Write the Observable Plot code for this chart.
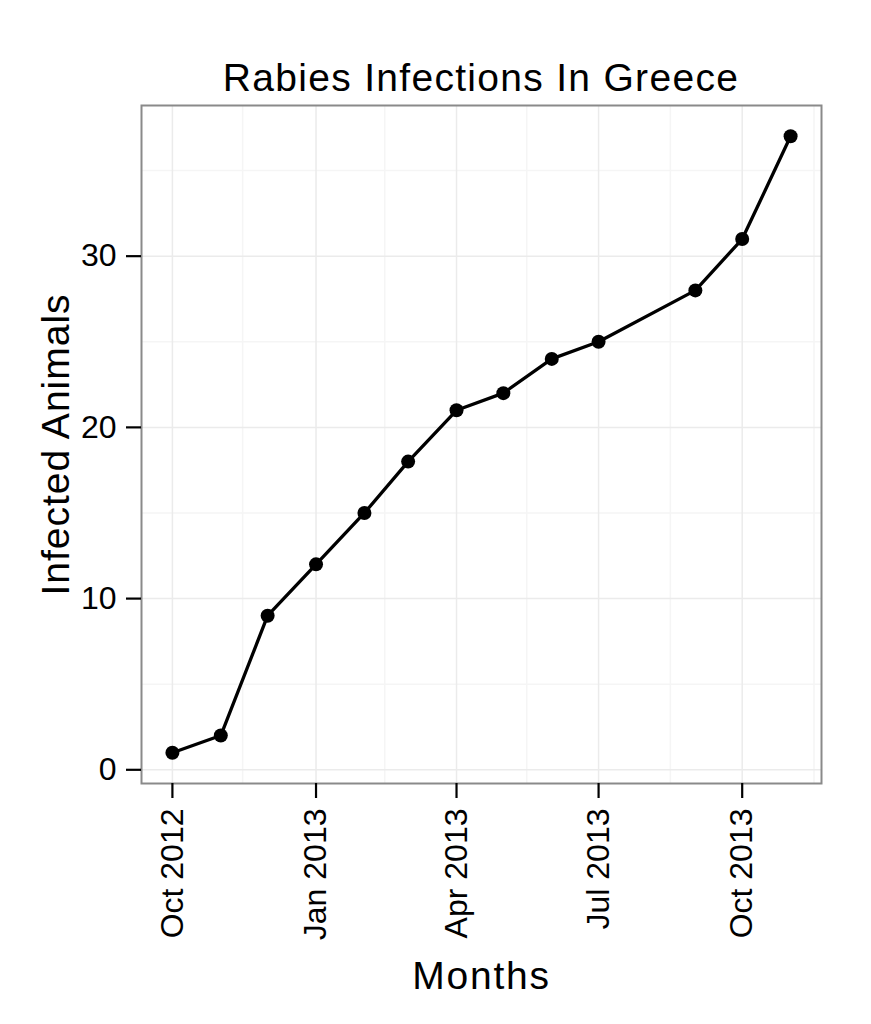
<!DOCTYPE html>
<html>
<head>
<meta charset="utf-8">
<script src="https://cdn.jsdelivr.net/npm/d3@7"></script>
<script src="https://cdn.jsdelivr.net/npm/@observablehq/plot@0.6"></script>
<style>
  html, body { margin: 0; padding: 0; background: #fff; }
  #wrap { position: relative; width: 871px; height: 1024px; font-family: "Liberation Sans", Arial, sans-serif; }
  #title { position: absolute; left: 141px; width: 680px; top: 55px; text-align: center; font-size: 39px; line-height: 46px; letter-spacing: 1.3px; color: #000; }
  #chart { position: absolute; left: 0; top: 100px; }
</style>
</head>
<body>
<div id="wrap">
  <div id="title">Rabies Infections In Greece</div>
  <div id="chart"></div>
</div>
<script>
// ---- data ----
const months = ["2012-10-01","2012-11-01","2012-12-01","2013-01-01","2013-02-01","2013-03-01","2013-04-01","2013-05-01","2013-06-01","2013-07-01","2013-09-01","2013-10-01","2013-11-01"];
const infected = [1, 2, 9, 12, 15, 18, 21, 22, 24, 25, 28, 31, 37];
const xTickDates = ["2012-10-01","2013-01-01","2013-04-01","2013-07-01","2013-10-01"];
const xMinorDates = ["2012-11-15","2013-02-14","2013-05-16","2013-08-16","2013-11-16"];
const yTicks = [0, 10, 20, 30];
const yMinor = [5, 15, 25, 35];
const xLabel = "Months";
const yLabel = "Infected Animals";

const parse = d3.utcParse("%Y-%m-%d");
const data = months.map((m, i) => ({date: parse(m), value: infected[i]}));
const xMajor = xTickDates.map(parse);
const xMinor = xMinorDates.map(parse);

// ggplot-style 5% expansion
const [x0, x1] = d3.extent(data, d => d.date);
const xpad = (x1 - x0) * 0.05;
const [y0, y1] = d3.extent(data, d => d.value);
const ypad = (y1 - y0) * 0.05;

const font = "Liberation Sans, Arial, sans-serif";

const plot = Plot.plot({
  width: 871,
  height: 924,
  marginLeft: 141,
  marginRight: 50,
  marginTop: 5,
  marginBottom: 241,
  style: {fontFamily: font, background: "#fff", color: "#000", overflow: "visible"},
  x: {type: "utc", domain: [new Date(+x0 - xpad), new Date(+x1 + xpad)]},
  y: {domain: [y0 - ypad, y1 + ypad]},
  marks: [
    Plot.ruleY(yMinor, {stroke: "#f5f5f5", strokeWidth: 1.5}),
    Plot.ruleX(xMinor, {stroke: "#f5f5f5", strokeWidth: 1.5}),
    Plot.ruleY(yTicks, {stroke: "#ebebeb", strokeWidth: 1.5}),
    Plot.ruleX(xMajor, {stroke: "#ebebeb", strokeWidth: 1.5}),
    Plot.frame({stroke: "#8a8a8a", strokeWidth: 2}),
    Plot.line(data, {x: "date", y: "value", stroke: "#000", strokeWidth: 3.3}),
    Plot.dot(data, {x: "date", y: "value", r: 7, fill: "#000", stroke: "none"}),
    Plot.axisY({ticks: yTicks, tickSize: 15, tickPadding: 10, fontSize: 32, label: null, stroke: "#000", strokeWidth: 2.2, fill: "#000"}),
    Plot.axisX({ticks: xMajor, tickFormat: d3.utcFormat("%b %Y"), tickRotate: -90, tickSize: 15, tickPadding: 10, fontSize: 32, label: null, stroke: "#000", strokeWidth: 2.2, fill: "#000"}),
    Plot.text([xLabel], {frameAnchor: "bottom", dy: 193, text: d => d, fontSize: 39, fill: "#000", lineAnchor: "middle", textAnchor: "middle"}),
    Plot.text([yLabel], {frameAnchor: "left", dx: -85, rotate: -90, text: d => d, fontSize: 39, fill: "#000", lineAnchor: "middle", textAnchor: "middle"})
  ]
});
d3.select(plot).selectAll("text").filter(function() { return this.textContent === xLabel; }).attr("letter-spacing", "1.8px");
d3.select(plot).selectAll("text").filter(function() { return this.textContent === yLabel; }).attr("letter-spacing", "1px");
document.getElementById("chart").appendChild(plot);
</script>
</body>
</html>
